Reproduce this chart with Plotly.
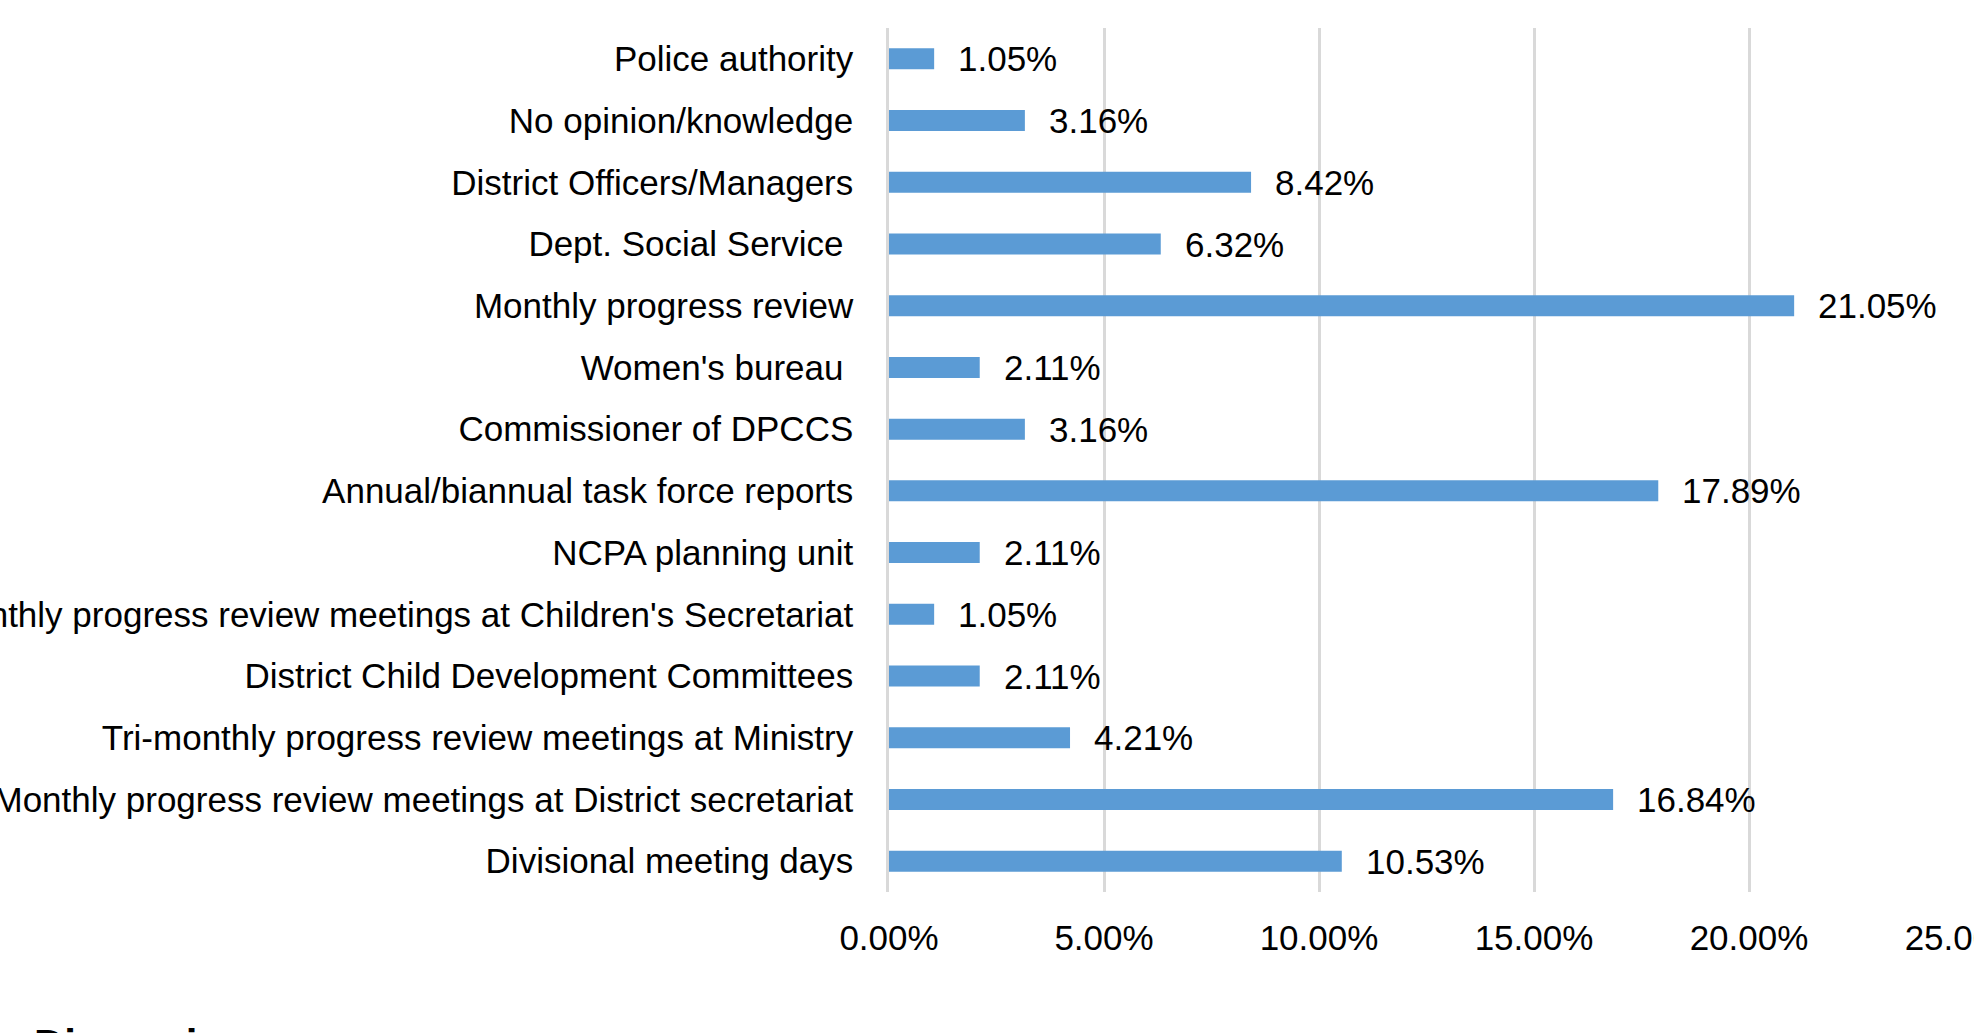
import plotly.graph_objects as go

categories = [
    "Police authority",
    "No opinion/knowledge",
    "District Officers/Managers",
    "Dept. Social Service\u00a0",
    "Monthly progress review",
    "Women's bureau\u00a0",
    "Commissioner of DPCCS",
    "Annual/biannual task force reports",
    "NCPA planning unit",
    "Tri-monthly progress review meetings at Children's Secretariat",
    "District Child Development Committees",
    "Tri-monthly progress review meetings at Ministry",
    "Monthly progress review meetings at District secretariat",
    "Divisional meeting days",
]
values = [1.05, 3.16, 8.42, 6.32, 21.05, 2.11, 3.16, 17.89, 2.11, 1.05, 2.11, 4.21, 16.84, 10.53]
x_ticks = [0, 5, 10, 15, 20, 25]
x_tick_labels = ["0.00%", "5.00%", "10.00%", "15.00%", "20.00%", "25.00%"]
heading = "Dimensions"

FONT = "Liberation Sans, Arial, sans-serif"
fig = go.Figure()
fig.add_trace(go.Bar(
    x=values, y=categories, orientation="h",
    marker=dict(color="#5B9BD5", line=dict(width=0)),
    hoverinfo="skip",
))

for c, v in zip(categories, values):
    fig.add_annotation(x=v, y=c, text=f"{v:.2f}%", showarrow=False,
                       xanchor="left", yanchor="middle", xshift=22,
                       font=dict(family=FONT, size=35, color="#000000"))

fig.add_annotation(xref="paper", yref="paper", x=-0.797, y=-0.147,
                   xanchor="left", yanchor="top", text=f"<b>{heading}</b>",
                   showarrow=False, font=dict(family=FONT, size=42, color="#000000"))

fig.update_layout(
    width=1974, height=1033,
    margin=dict(l=889, r=10, t=28, b=141, autoexpand=False),
    paper_bgcolor="white", plot_bgcolor="white",
    bargap=0.66, showlegend=False,
    font=dict(family=FONT, size=35, color="#000000"),
)
fig.update_xaxes(range=[0, 25], tickvals=x_ticks, ticktext=x_tick_labels,
                 showgrid=True, gridcolor="#D9D9D9", gridwidth=2.5,
                 zeroline=False, showline=False, ticks="", automargin=False,
                 ticklabeloverflow="allow",
                 ticklabelstandoff=22, tickfont=dict(size=35, family=FONT))
fig.update_yaxes(range=[13.5, -0.5], showgrid=False, zeroline=False,
                 showline=True, linecolor="#D9D9D9", linewidth=2.5, ticks="",
                 automargin=False, ticklabeloverflow="allow",
                 ticklabelstandoff=26, tickfont=dict(size=35, family=FONT))

fig.write_html("out.html", config={"displayModeBar": False},
               post_script="document.body.style.margin='0';document.body.style.overflow='hidden';")
